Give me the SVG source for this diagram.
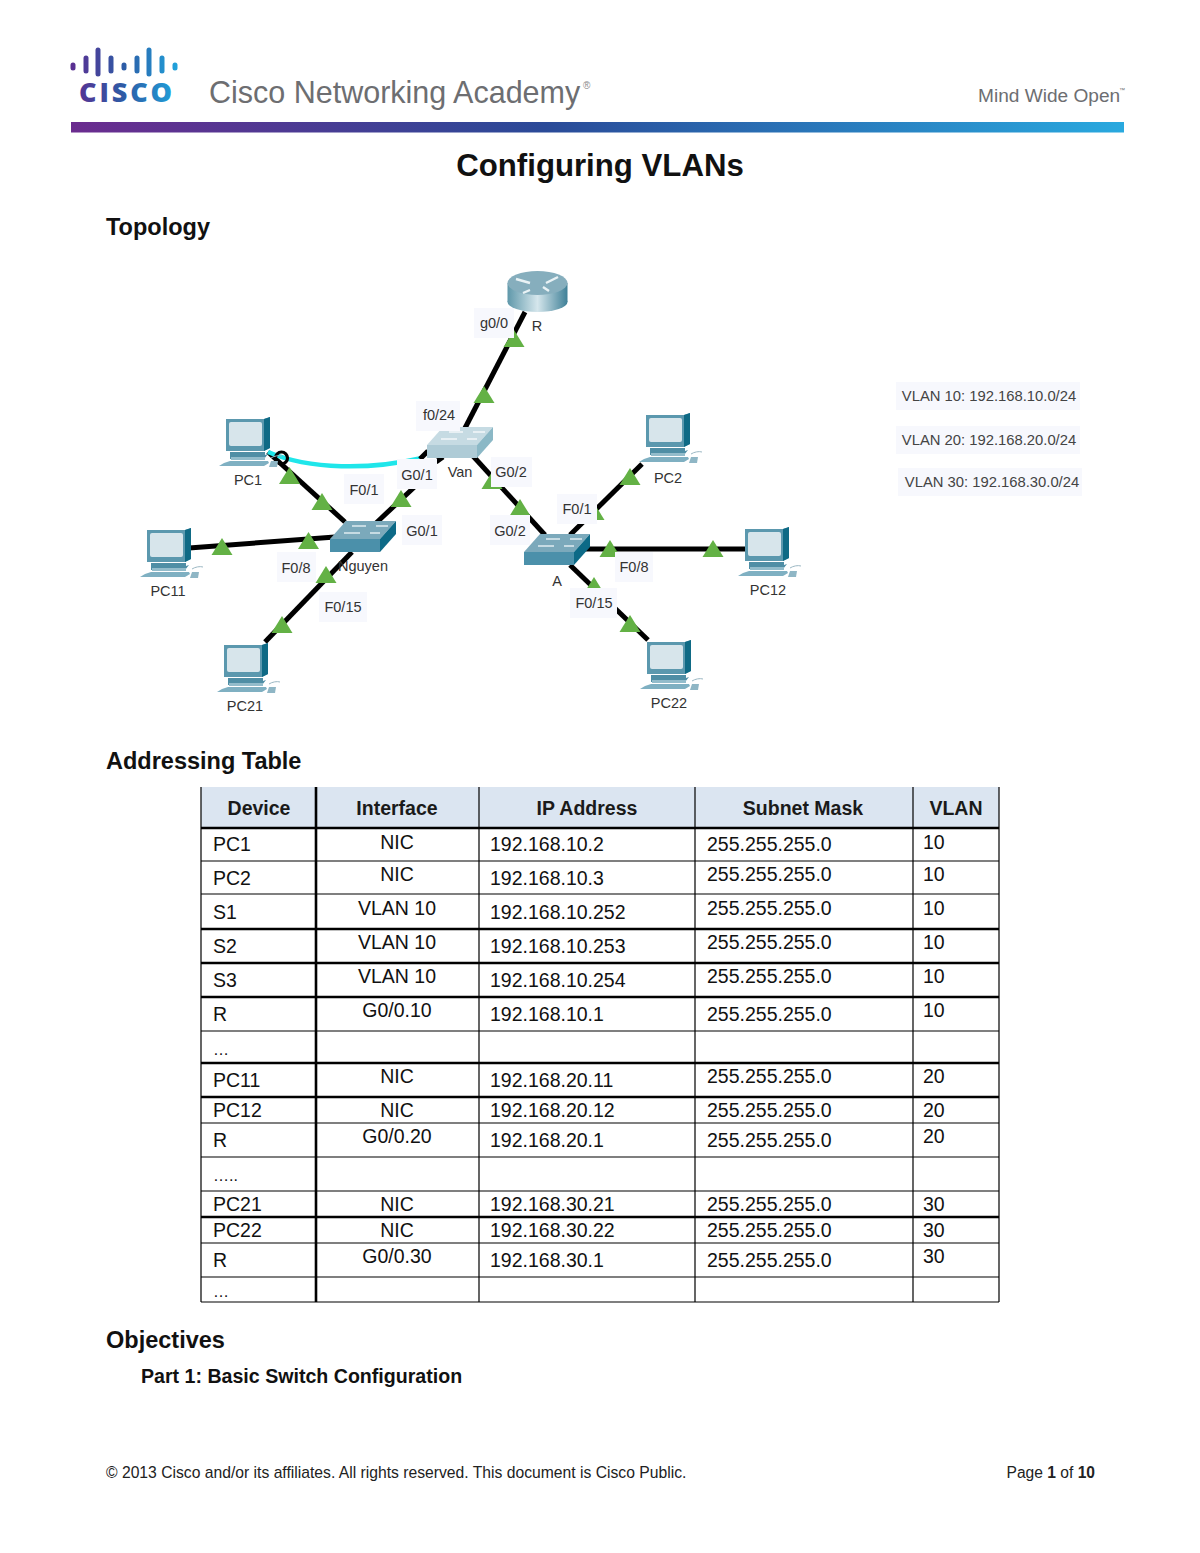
<svg xmlns="http://www.w3.org/2000/svg" width="1200" height="1553" viewBox="0 0 1200 1553">
<style>
text{font-family:"Liberation Sans",Arial,sans-serif;fill:#111}
.h{font-weight:700;font-size:23.5px}
.th{font-weight:700;font-size:19.5px;text-anchor:middle;fill:#1a1a1a}
.td{font-size:19.5px}
.c{text-anchor:middle}
.lb{font-size:14.5px;text-anchor:middle;fill:#333}
.bg{fill:#f7f8fd}
.lk{stroke:#000;stroke-width:5;fill:none}
.tl{stroke:#000;stroke-width:1.2}
.tk{stroke:#000;stroke-width:2.6}
.bar{stroke-linecap:round;fill:none;stroke-width:5;stroke:url(#logo)}
.vl{font-size:14.8px;fill:#444;text-anchor:middle}
</style>
<defs>
<linearGradient id="band" x1="0" x2="1" y1="0" y2="0"><stop offset="0" stop-color="#6b2c8f"/><stop offset=".45" stop-color="#2a4a98"/><stop offset="1" stop-color="#29a9df"/></linearGradient>
<linearGradient id="logo" gradientUnits="userSpaceOnUse" x1="70" x2="178" y1="0" y2="0"><stop offset="0" stop-color="#5c2d91"/><stop offset=".5" stop-color="#2d5ca6"/><stop offset="1" stop-color="#1fa3dc"/></linearGradient>
<linearGradient id="rt" x1="0" x2="1" y1="0" y2="0"><stop offset="0" stop-color="#5f98aa"/><stop offset=".5" stop-color="#d5e6ec"/><stop offset="1" stop-color="#3f8097"/></linearGradient>
<polygon id="tri" points="0,-9 10.5,8 -10.5,8" fill="#63b145"/>
<g id="pc">
<polygon points="0,2 38,2 44,0 44,31 38,34 0,34" fill="#5b98ae"/>
<polygon points="38,2 44,0 44,31 38,34" fill="#0f6a85"/>
<rect x="3" y="5" width="33" height="24" rx="2" fill="#d7e5eb"/>
<polygon points="4,35 39,35 39,38 42,37 38,42 4,42" fill="#4f8ea5"/>
<rect x="5" y="40" width="34" height="3" fill="#93bccb"/>
<polygon points="4,44 42,44 43,46 38,49 -7,49 -2,46" fill="#7fb0c2"/>
<path d="M45 41c3-2 8-3 11-2" stroke="#9cb8c4" stroke-width="1" fill="none"/>
<polygon points="45,44 52,44 51,50 43,50" fill="#8fb6c5"/>
</g>
<g id="sw">
<polygon points="0,18 16,0 66,0 50,18" fill="#7ba9bb"/>
<rect x="0" y="18" width="50" height="13" fill="#4b90aa"/>
<polygon points="50,18 66,0 66,13 50,31" fill="#0d6a87"/>
<g stroke="#dfecf1" stroke-width="1.5"><path d="M14 12h16M22 5h14M40 12h10M46 5h12"/></g>
</g>
<g id="swl">
<polygon points="0,18 16,0 66,0 50,18" fill="#c6dbe3"/>
<rect x="0" y="18" width="50" height="13" fill="#aecbd6"/>
<polygon points="50,18 66,0 66,13 50,31" fill="#8bb8c6"/>
<g stroke="#f3f8fa" stroke-width="1.5"><path d="M14 12h16M22 5h14M40 12h10M46 5h12"/></g>
</g>
</defs>
<rect width="1200" height="1553" fill="#fff"/>

<g id="header">
<g class="bar">
<path d="M73 65v3"/><path d="M86 58v13"/><path d="M98 50v24"/><path d="M111 58v13"/><path d="M124 65v3"/><path d="M137 58v13"/><path d="M149 50v24"/><path d="M162 58v13"/><path d="M175 65v3"/>
</g>
<text x="79" y="102" style="font-family:'Open Sans',sans-serif;font-weight:800;font-size:27px;letter-spacing:2.9px;fill:url(#logo)">CISCO</text>
<text x="209" y="103" style="font-size:30.5px;fill:#6d6e71">Cisco Networking Academy</text>
<text x="583" y="89" style="font-size:10px;fill:#8a8a8a">®</text>
<text x="978" y="102" style="font-size:19.1px;fill:#6d6e71">Mind Wide Open</text>
<text x="1119" y="92" style="font-size:6px;fill:#6d6e71">™</text>
<rect x="71" y="122" width="1053" height="10.5" fill="url(#band)"/>
</g>
<text x="600" y="176" class="c" style="font-weight:700;font-size:31.2px">Configuring VLANs</text>
<text x="106" y="235" class="h">Topology</text>

<g id="connectors">
<path class="lk" d="M268 452L345 522"/>
<path d="M268 452C310 470 370 470 422 458" stroke="#1fe6ea" stroke-width="4.5" fill="none"/>
<path class="lk" d="M420 459L428 451M436 462L443 457"/>
<path class="lk" d="M375 524L424 478"/>
<path class="lk" d="M525 312L464 430"/>
<path class="lk" d="M189 548L335 537"/>
<path class="lk" d="M265 642L352 552"/>
<path class="lk" d="M473 456L545 535"/>
<path class="lk" d="M570 535L642 464"/>
<path class="lk" d="M585 549L746 549"/>
<path class="lk" d="M570 565L648 640"/>
<circle cx="281.5" cy="458" r="6" fill="none" stroke="#000" stroke-width="3.2"/>
</g>

<g id="link-lights">
<use href="#tri" x="289.5" y="476"/><use href="#tri" x="322" y="502"/>
<use href="#tri" x="222" y="547"/><use href="#tri" x="308.5" y="541"/>
<use href="#tri" x="282" y="625"/><use href="#tri" x="326" y="575"/>
<use href="#tri" x="401" y="499"/>
<use href="#tri" x="514" y="339"/><use href="#tri" x="484" y="395"/>
<use href="#tri" x="520" y="508"/><use href="#tri" x="492" y="481"/>
<use href="#tri" x="630" y="477"/><use href="#tri" x="594" y="512"/>
<use href="#tri" x="610" y="549"/><use href="#tri" x="713" y="549"/>
<use href="#tri" x="594" y="586"/><use href="#tri" x="630" y="624"/>
</g>

<g id="PC1"><use href="#pc" x="226" y="417"/><text x="248" y="485" class="lb">PC1</text></g>
<g id="PC11"><use href="#pc" x="147" y="528"/><text x="168" y="596" class="lb">PC11</text></g>
<g id="PC21"><use href="#pc" x="224" y="643"/><text x="245" y="711" class="lb">PC21</text></g>
<g id="PC2"><use href="#pc" x="646" y="413"/><text x="668" y="483" class="lb">PC2</text></g>
<g id="PC12"><use href="#pc" x="745" y="527"/><text x="768" y="595" class="lb">PC12</text></g>
<g id="PC22"><use href="#pc" x="647" y="640"/><text x="669" y="708" class="lb">PC22</text></g>
<g id="R">
<ellipse cx="537.5" cy="302" rx="30" ry="10" fill="url(#rt)"/>
<rect x="507.5" y="283" width="60" height="19" fill="url(#rt)"/>
<ellipse cx="537.5" cy="283" rx="30" ry="12" fill="#86aebd"/>
<path d="M516 279l14 4M558 277l-12 6M530 290l-7 3M543 287l6 4" stroke="#e9f2f5" stroke-width="2.4" fill="none"/>
<text x="537" y="331" class="lb">R</text>
</g>
<g id="Van"><use href="#swl" x="427" y="427"/><text x="460" y="477" class="lb">Van</text></g>
<g id="Nguyen"><use href="#sw" x="330" y="521"/><text x="363" y="571" class="lb">Nguyen</text></g>
<g id="A"><use href="#sw" x="524" y="534"/><text x="557" y="586" class="lb">A</text></g>

<g id="port-labels">
<rect class="bg" x="344" y="474" width="40" height="30"/><text x="364" y="495" class="lb">F0/1</text>
<rect class="bg" x="397" y="459" width="40" height="30"/><text x="417" y="480" class="lb">G0/1</text>
<rect class="bg" x="402" y="515" width="40" height="30"/><text x="422" y="536" class="lb">G0/1</text>
<rect class="bg" x="277" y="552" width="39" height="30"/><text x="296" y="573" class="lb">F0/8</text>
<rect class="bg" x="319" y="592" width="48" height="30"/><text x="343" y="612" class="lb">F0/15</text>
<rect class="bg" x="416" y="401" width="44" height="30"/><text x="439" y="420" class="lb">f0/24</text>
<rect class="bg" x="474" y="308" width="40" height="30"/><text x="494" y="328" class="lb">g0/0</text>
<rect class="bg" x="491" y="457" width="41" height="30"/><text x="511" y="477" class="lb">G0/2</text>
<rect class="bg" x="490" y="515" width="40" height="30"/><text x="510" y="536" class="lb">G0/2</text>
<rect class="bg" x="557" y="494" width="40" height="30"/><text x="577" y="514" class="lb">F0/1</text>
<rect class="bg" x="615" y="552" width="38" height="30"/><text x="634" y="572" class="lb">F0/8</text>
<rect class="bg" x="570" y="588" width="47" height="30"/><text x="594" y="608" class="lb">F0/15</text>
</g>

<g id="vlan-notes">
<rect class="bg" x="896" y="382" width="184" height="28"/><text x="989" y="401" class="vl">VLAN 10: 192.168.10.0/24</text>
<rect class="bg" x="896" y="426" width="184" height="28"/><text x="989" y="445" class="vl">VLAN 20: 192.168.20.0/24</text>
<rect class="bg" x="898" y="468" width="184" height="28"/><text x="992" y="487" class="vl">VLAN 30: 192.168.30.0/24</text>
</g>

<text x="106" y="769" class="h">Addressing Table</text>

<g id="table">
<rect x="201" y="787" width="798" height="41" fill="#dbe5f1"/>
<g class="tk">
<path d="M201 828H999M201 929H999M201 963H999M201 997H999M201 1063H999M201 1097H999M201 1217H999"/>
<path d="M316 787V1302"/>
</g>
<g class="tl">
<path d="M201 787V1302M479 787V1302M695 787V1302M913 787V1302M999 787V1302"/>
<path d="M201 861H999M201 894H999M201 1031H999M201 1123H999M201 1157H999M201 1191H999M201 1243H999M201 1277H999M201 1302H999"/>
</g>
<text x="259" y="815" class="th">Device</text><text x="397" y="815" class="th">Interface</text><text x="587" y="815" class="th">IP Address</text><text x="803" y="815" class="th">Subnet Mask</text><text x="956" y="815" class="th">VLAN</text>
<g class="td">
<text x="213" y="851">PC1</text><text x="397" y="849" class="c">NIC</text><text x="490" y="851">192.168.10.2</text><text x="707" y="851">255.255.255.0</text><text x="923" y="849">10</text>
<text x="213" y="885">PC2</text><text x="397" y="881" class="c">NIC</text><text x="490" y="885">192.168.10.3</text><text x="707" y="881">255.255.255.0</text><text x="923" y="881">10</text>
<text x="213" y="919">S1</text><text x="397" y="915" class="c">VLAN 10</text><text x="490" y="919">192.168.10.252</text><text x="707" y="915">255.255.255.0</text><text x="923" y="915">10</text>
<text x="213" y="953">S2</text><text x="397" y="949" class="c">VLAN 10</text><text x="490" y="953">192.168.10.253</text><text x="707" y="949">255.255.255.0</text><text x="923" y="949">10</text>
<text x="213" y="987">S3</text><text x="397" y="983" class="c">VLAN 10</text><text x="490" y="987">192.168.10.254</text><text x="707" y="983">255.255.255.0</text><text x="923" y="983">10</text>
<text x="213" y="1021">R</text><text x="397" y="1017" class="c">G0/0.10</text><text x="490" y="1021">192.168.10.1</text><text x="707" y="1021">255.255.255.0</text><text x="923" y="1017">10</text>
<text x="213" y="1055" style="font-size:16px">…</text>
<text x="213" y="1087">PC11</text><text x="397" y="1083" class="c">NIC</text><text x="490" y="1087">192.168.20.11</text><text x="707" y="1083">255.255.255.0</text><text x="923" y="1083">20</text>
<text x="213" y="1117">PC12</text><text x="397" y="1117" class="c">NIC</text><text x="490" y="1117">192.168.20.12</text><text x="707" y="1117">255.255.255.0</text><text x="923" y="1117">20</text>
<text x="213" y="1147">R</text><text x="397" y="1143" class="c">G0/0.20</text><text x="490" y="1147">192.168.20.1</text><text x="707" y="1147">255.255.255.0</text><text x="923" y="1143">20</text>
<text x="213" y="1181" style="font-size:16px">…..</text>
<text x="213" y="1211">PC21</text><text x="397" y="1211" class="c">NIC</text><text x="490" y="1211">192.168.30.21</text><text x="707" y="1211">255.255.255.0</text><text x="923" y="1211">30</text>
<text x="213" y="1237">PC22</text><text x="397" y="1237" class="c">NIC</text><text x="490" y="1237">192.168.30.22</text><text x="707" y="1237">255.255.255.0</text><text x="923" y="1237">30</text>
<text x="213" y="1267">R</text><text x="397" y="1263" class="c">G0/0.30</text><text x="490" y="1267">192.168.30.1</text><text x="707" y="1267">255.255.255.0</text><text x="923" y="1263">30</text>
<text x="213" y="1297" style="font-size:16px">…</text>
</g>
</g>

<text x="106" y="1348" class="h">Objectives</text>
<text x="141" y="1383" style="font-weight:700;font-size:19.6px">Part 1: Basic Switch Configuration</text>
<text x="106" y="1478" style="font-size:15.7px;fill:#222">© 2013 Cisco and/or its affiliates. All rights reserved. This document is Cisco Public.</text>
<text x="1095" y="1478" style="font-size:15.6px;text-anchor:end;fill:#222">Page <tspan font-weight="700">1</tspan> of <tspan font-weight="700">10</tspan></text>
</svg>
